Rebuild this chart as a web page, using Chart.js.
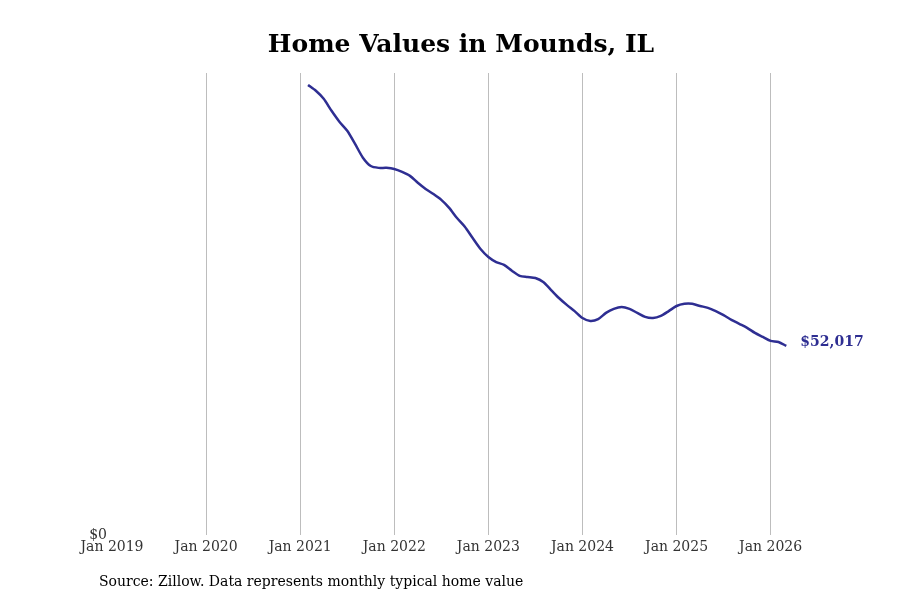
<!DOCTYPE html>
<html>
<head>
<meta charset="utf-8">
<script src="https://cdn.jsdelivr.net/npm/chart.js@4"></script>
<style>
  html, body { margin: 0; padding: 0; background: #fff; }
  #wrap { width: 900px; height: 600px; position: relative; }
</style>
</head>
<body>
<div id="wrap"><canvas id="myChart" width="900" height="600"></canvas></div>
<script>
// months counted from Jan 2019 (0 = Jan 2019)
const startMonth = 25; // Feb 2021
const homeValues = [
  123800, 122200, 120000, 116700, 113700, 111200, 107600, 103800, 101500, 101000, 101000,
  100700, 99900, 98800, 96900, 95200, 93800, 92200, 90000, 87200, 84800, 81700, 78700,
  76500, 75100, 74300, 72700, 71300, 71000, 70700, 69600, 67400, 65200, 63300, 61600,
  59700, 58900, 59400, 61100, 62200, 62700, 62200, 61100, 60000, 59700, 60300, 61600,
  63000, 63600, 63600, 63000, 62500, 61600, 60500, 59200, 58100, 57000, 55600, 54500,
  53400, 53100, 52017
];
const tickMonths = [0, 12, 24, 36, 48, 60, 72, 84];
const tickYears = [2019, 2020, 2021, 2022, 2023, 2024, 2025, 2026];
const titleText = 'Home Values in Mounds, IL';
const sourceText = 'Source: Zillow. Data represents monthly typical home value';
const lineColor = '#2e2e92';

const points = homeValues.map((v, i) => ({ x: startMonth + i, y: v }));

const extraText = {
  id: 'extraText',
  afterDraw(chart) {
    const ctx = chart.ctx;
    ctx.save();
    ctx.fillStyle = '#000';
    ctx.font = 'bold 25px "DejaVu Serif"';
    ctx.textAlign = 'center';
    ctx.textBaseline = 'middle';
    ctx.fillText(titleText, 461, 45);

    ctx.font = '14px "DejaVu Serif"';
    ctx.textAlign = 'left';
    ctx.fillText(sourceText, 99, 582);

    // last value label
    const last = points[points.length - 1];
    const px = chart.scales.x.getPixelForValue(last.x);
    const py = chart.scales.y.getPixelForValue(last.y);
    ctx.fillStyle = lineColor;
    ctx.font = 'bold 14px "DejaVu Serif"';
    ctx.fillText('$' + last.y.toLocaleString('en-US'), px + 14, py - 4);
    ctx.restore();
  }
};

const ctx = document.getElementById('myChart').getContext('2d');
const myChart = new Chart(ctx, {
  type: 'line',
  data: {
    datasets: [{
      data: points,
      borderColor: lineColor,
      borderWidth: 2.5,
      pointRadius: 0,
      tension: 0.25,
      fill: false
    }]
  },
  options: {
    responsive: false,
    animation: false,
    layout: { padding: { top: 73, right: 98, left: 0, bottom: 0 } },
    plugins: { legend: { display: false }, tooltip: { enabled: false } },
    scales: {
      x: {
        type: 'linear',
        min: 0,
        max: 88,
        afterBuildTicks: (s) => { s.ticks = tickMonths.map(v => ({ value: v })); },
        afterFit: (s) => { s.height = 65; },
        grid: {
          color: (c) => (c.tick && c.tick.value === 0) ? 'rgba(0,0,0,0)' : '#bdbdbd',
          lineWidth: 1,
          drawTicks: false
        },
        border: { display: false },
        ticks: {
          padding: 4,
          color: '#333',
          font: { family: 'DejaVu Serif', size: 14 },
          maxRotation: 0,
          callback: (v) => 'Jan ' + tickYears[tickMonths.indexOf(v)]
        }
      },
      y: {
        min: 0,
        max: 127100,
        afterBuildTicks: (s) => { s.ticks = [{ value: 0 }]; },
        afterFit: (s) => { s.width = 112; },
        grid: { display: false, drawTicks: false },
        border: { display: false },
        ticks: {
          padding: 5,
          color: '#333',
          font: { family: 'DejaVu Serif', size: 14 },
          callback: (v) => '$' + v
        }
      }
    }
  },
  plugins: [extraText]
});
</script>
</body>
</html>
